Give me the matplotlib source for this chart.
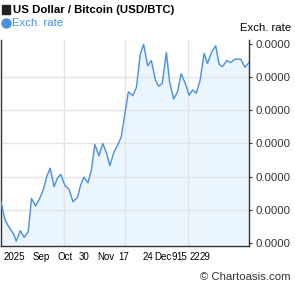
import matplotlib
matplotlib.use("Agg")
import matplotlib.pyplot as plt
from matplotlib.patches import Rectangle
from matplotlib.lines import Line2D
from matplotlib.ticker import FormatStrFormatter

plt.rcParams['font.family'] = ['Liberation Sans', 'DejaVu Sans']

# days since Sep 1 2025 and USD/BTC rate (x 1e-6)
days = [0, 0.8, 2.0, 3.3, 4.9, 6.2, 7.5, 9.5, 11.4, 13.4, 15.0, 17.0, 18.8, 20.4, 21.2,
        22.5, 24.2, 26.1, 27.8, 29.4, 31.4, 33.5, 35.4, 37.6, 39.2, 40.8, 42.8, 44.5, 46.2,
        48.2, 50.1, 52.0, 53.6, 55.5, 57.5, 59.2, 60.8, 62.7, 64.9, 66.7, 68.6, 70.2, 72.2,
        74.0, 76.0, 77.6, 79.4, 81.4, 83.0, 85.0, 86.9, 88.7, 90.7, 92.6, 94.3, 96.1, 98.0,
        100.0, 101.6, 103.8, 105.7, 107.4, 109.0, 111.1, 113.1, 115.2, 118.0, 120.1, 122.1]
rate = [8.87, 8.70, 8.49, 8.38, 8.27, 8.19, 8.04, 8.26, 8.12, 8.24, 8.94, 8.78, 8.92, 9.08,
        9.18, 9.40, 9.58, 9.19, 9.37, 9.45, 9.22, 9.13, 8.87, 8.96, 9.22, 9.39, 9.27, 9.54,
        10.08, 9.84, 10.10, 9.89, 9.63, 9.91, 10.07, 10.24, 10.68, 11.19, 11.11, 11.29, 11.99,
        12.19, 11.74, 11.85, 11.44, 11.31, 11.37, 12.02, 11.40, 11.04, 11.19, 11.57, 11.37,
        11.12, 11.23, 11.16, 11.43, 12.00, 11.79, 12.04, 12.16, 11.77, 11.72, 11.85, 11.81,
        11.88, 11.88, 11.71, 11.81]
rate = [r * 1e-6 for r in rate]

yticks = [8.0e-6 + k * 0.7e-6 for k in range(7)]
month_lines = [31, 61, 92]
tick_pos = [6.4, 19.6, 31.4, 40.7, 51.5, 60.3, 72.1, 79.7, 85.3, 89.0, 95.3, 100.4]
tick_lab = ["2025", "Sep", "Oct", "30", "Nov", "17", "24", "Dec", "9", "15", "22", "29"]

blue = "#4a90e2"
W, H = 295, 288
fig = plt.figure(figsize=(W / 100, H / 100), dpi=100)
ax = fig.add_axes([1 / W, 42 / H, 248 / W, 206 / H])

ax.fill_between(days, rate, 7.0e-6, color="#ebf5fe", zorder=1)
ax.plot(days, rate, color=blue, lw=1.0, zorder=3)

ax.set_xlim(0, 122.1)
ax.set_ylim(7.937e-6, 12.284e-6)
for d in month_lines:
    ax.axvline(d, color="#e4e4e4", lw=1, zorder=2)
for y in yticks[1:-1]:
    ax.axhline(y, color="#e4e4e4", lw=1, zorder=2)

ax.yaxis.tick_right()
ax.set_yticks(yticks)
ax.yaxis.set_major_formatter(FormatStrFormatter("%.4f"))
ax.tick_params(axis="y", length=2, pad=3, labelsize=8.2, colors="#333333", width=0.8)
ax.set_xticks(tick_pos)
ax.set_xticklabels(tick_lab)
ax.tick_params(axis="x", length=0, pad=4, labelsize=7.0, colors="black")

ax.spines["top"].set_visible(False)
for s in ["left", "right", "bottom"]:
    ax.spines[s].set_color("#333333")
    ax.spines[s].set_linewidth(1)

# header
fig.add_artist(Rectangle((2 / W, 1 - 14 / H), 8 / W, 9 / H, color="#222222",
                         transform=fig.transFigure))
fig.text(13 / W, 1 - 10 / H, "US Dollar / Bitcoin (USD/BTC)", fontsize=8.2,
         fontweight="bold", va="center", ha="left")
fig.add_artist(Line2D([6 / W], [1 - 22.5 / H], marker="o", markersize=6.5, color=blue,
                      transform=fig.transFigure))
fig.text(12 / W, 1 - 23 / H, "Exch. rate", fontsize=8.2, color=blue, va="center", ha="left")
fig.text(291 / W, 1 - 28 / H, "Exch. rate", fontsize=8.2, color="black", va="center", ha="right")
fig.text(291 / W, 1 - 277 / H, "\u00a9 Chartoasis.com", fontsize=8.2, color="#333333",
         va="center", ha="right")

fig.savefig("out.png", dpi=100)
